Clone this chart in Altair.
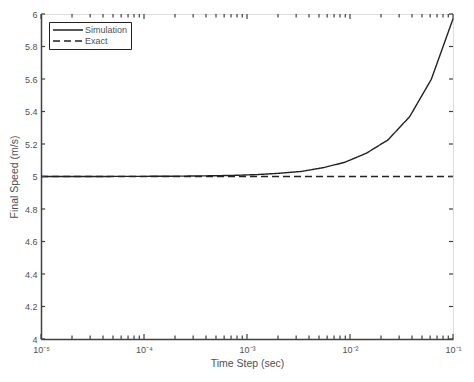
import altair as alt
import pandas as pd

# data
time_step = [1.0e-5, 1.624e-5, 2.637e-5, 4.281e-5, 6.952e-5, 1.129e-4, 1.833e-4, 2.976e-4,
             4.833e-4, 7.848e-4, 1.274e-3, 2.069e-3, 3.360e-3, 5.456e-3, 8.859e-3,
             1.438e-2, 2.336e-2, 3.793e-2, 6.158e-2, 1.0e-1]
sim_speed = [5.0001, 5.0002, 5.0003, 5.0004, 5.0007, 5.0011, 5.0018, 5.0029,
             5.0047, 5.0075, 5.012, 5.020, 5.031, 5.054, 5.087,
             5.143, 5.225, 5.368, 5.598, 5.970]
exact_x = [1.0e-5, 1.0e-1]
exact_speed = [5.0, 5.0]
series_names = ["Simulation", "Exact"]
x_major = [1e-5, 1e-4, 1e-3, 1e-2, 1e-1]
x_minor = [m * d for d in [1e-5, 1e-4, 1e-3, 1e-2] for m in [2, 3, 4, 5, 6, 7, 8, 9]]
y_ticks = [4.0, 4.2, 4.4, 4.6, 4.8, 5.0, 5.2, 5.4, 5.6, 5.8, 6.0]

W, H = 412, 325
AX = "#404040"
TXT = "#505050"

df = pd.DataFrame({
    "t": time_step + exact_x,
    "v": sim_speed + exact_speed,
    "s": ["Simulation"] * len(time_step) + ["Exact"] * len(exact_x),
})

xscale = alt.Scale(type="log", domain=[1e-5, 1e-1], nice=False)
yscale = alt.Scale(domain=[4, 6], nice=False, zero=False)

xaxis = alt.Axis(title="Time Step (sec)", values=x_major, ticks=False,
                 labelExpr="'10' + ['⁻⁵','⁻⁴','⁻³','⁻²','⁻¹'][round(log(datum.value)/LN10)+5]",
                 labelFontSize=9, labelPadding=6, titleFontSize=10.5, titlePadding=4,
                 titleFontWeight="normal", labelOverlap=False,
                 grid=False, domainColor=AX, domainWidth=1.5,
                 labelColor=TXT, titleColor=TXT, labelFlush=False)
yaxis = alt.Axis(title="Final Speed (m/s)", values=y_ticks, ticks=False, format=".1~f",
                 labelFontSize=9, labelPadding=4, titleFontSize=10.5, titlePadding=5,
                 titleFontWeight="normal", labelOverlap=False, labelFlush=False,
                 grid=False, domainColor=AX, domainWidth=1.5,
                 labelColor=TXT, titleColor=TXT)

lines = alt.Chart(df).mark_line(color="#222222", strokeWidth=1.4).encode(
    x=alt.X("t:Q", scale=xscale, axis=xaxis),
    y=alt.Y("v:Q", scale=yscale, axis=yaxis),
    strokeDash=alt.StrokeDash("s:N",
                              scale=alt.Scale(domain=series_names, range=[[1, 0], [7, 4]]),
                              legend=alt.Legend(title=None, orient="top-left", offset=8,
                                                symbolType="stroke", symbolSize=900,
                                                symbolStrokeColor="#222222", symbolStrokeWidth=1.4,
                                                labelFontSize=9, labelColor=TXT,
                                                fillColor="white", strokeColor="#222222",
                                                padding=3, rowPadding=1, labelOffset=1,
                                                clipHeight=10, cornerRadius=0)),
    detail="s:N",
)

xt = pd.DataFrame({"t": x_major})
xm = pd.DataFrame({"t": x_minor})
yt = pd.DataFrame({"v": y_ticks})

def xticks(data, length):
    bot = alt.Chart(data).mark_rule(color=AX, strokeWidth=1.2).encode(
        x=alt.X("t:Q", scale=xscale, axis=xaxis), y=alt.value(H), y2=alt.value(H - length))
    top = alt.Chart(data).mark_rule(color=AX, strokeWidth=1.2).encode(
        x=alt.X("t:Q", scale=xscale, axis=xaxis), y=alt.value(0), y2=alt.value(length))
    return bot + top

yl = alt.Chart(yt).mark_rule(color=AX, strokeWidth=1.2).encode(
    y=alt.Y("v:Q", scale=yscale, axis=yaxis), x=alt.value(0), x2=alt.value(4))
yr = alt.Chart(yt).mark_rule(color=AX, strokeWidth=1.2).encode(
    y=alt.Y("v:Q", scale=yscale, axis=yaxis), x=alt.value(W), x2=alt.value(W - 4))

chart = alt.layer(lines, xticks(xt, 5), xticks(xm, 3.5), yl, yr).properties(
    width=W, height=H,
    autosize=alt.AutoSizeParams(type="none"),
    padding={"left": 33, "top": 6, "right": 12, "bottom": 40},
).configure_view(stroke=AX, strokeWidth=1.5).configure(
    font="Liberation Sans", background="white"
)

chart.save("out.html", embed_options={"renderer": "svg", "actions": False})
